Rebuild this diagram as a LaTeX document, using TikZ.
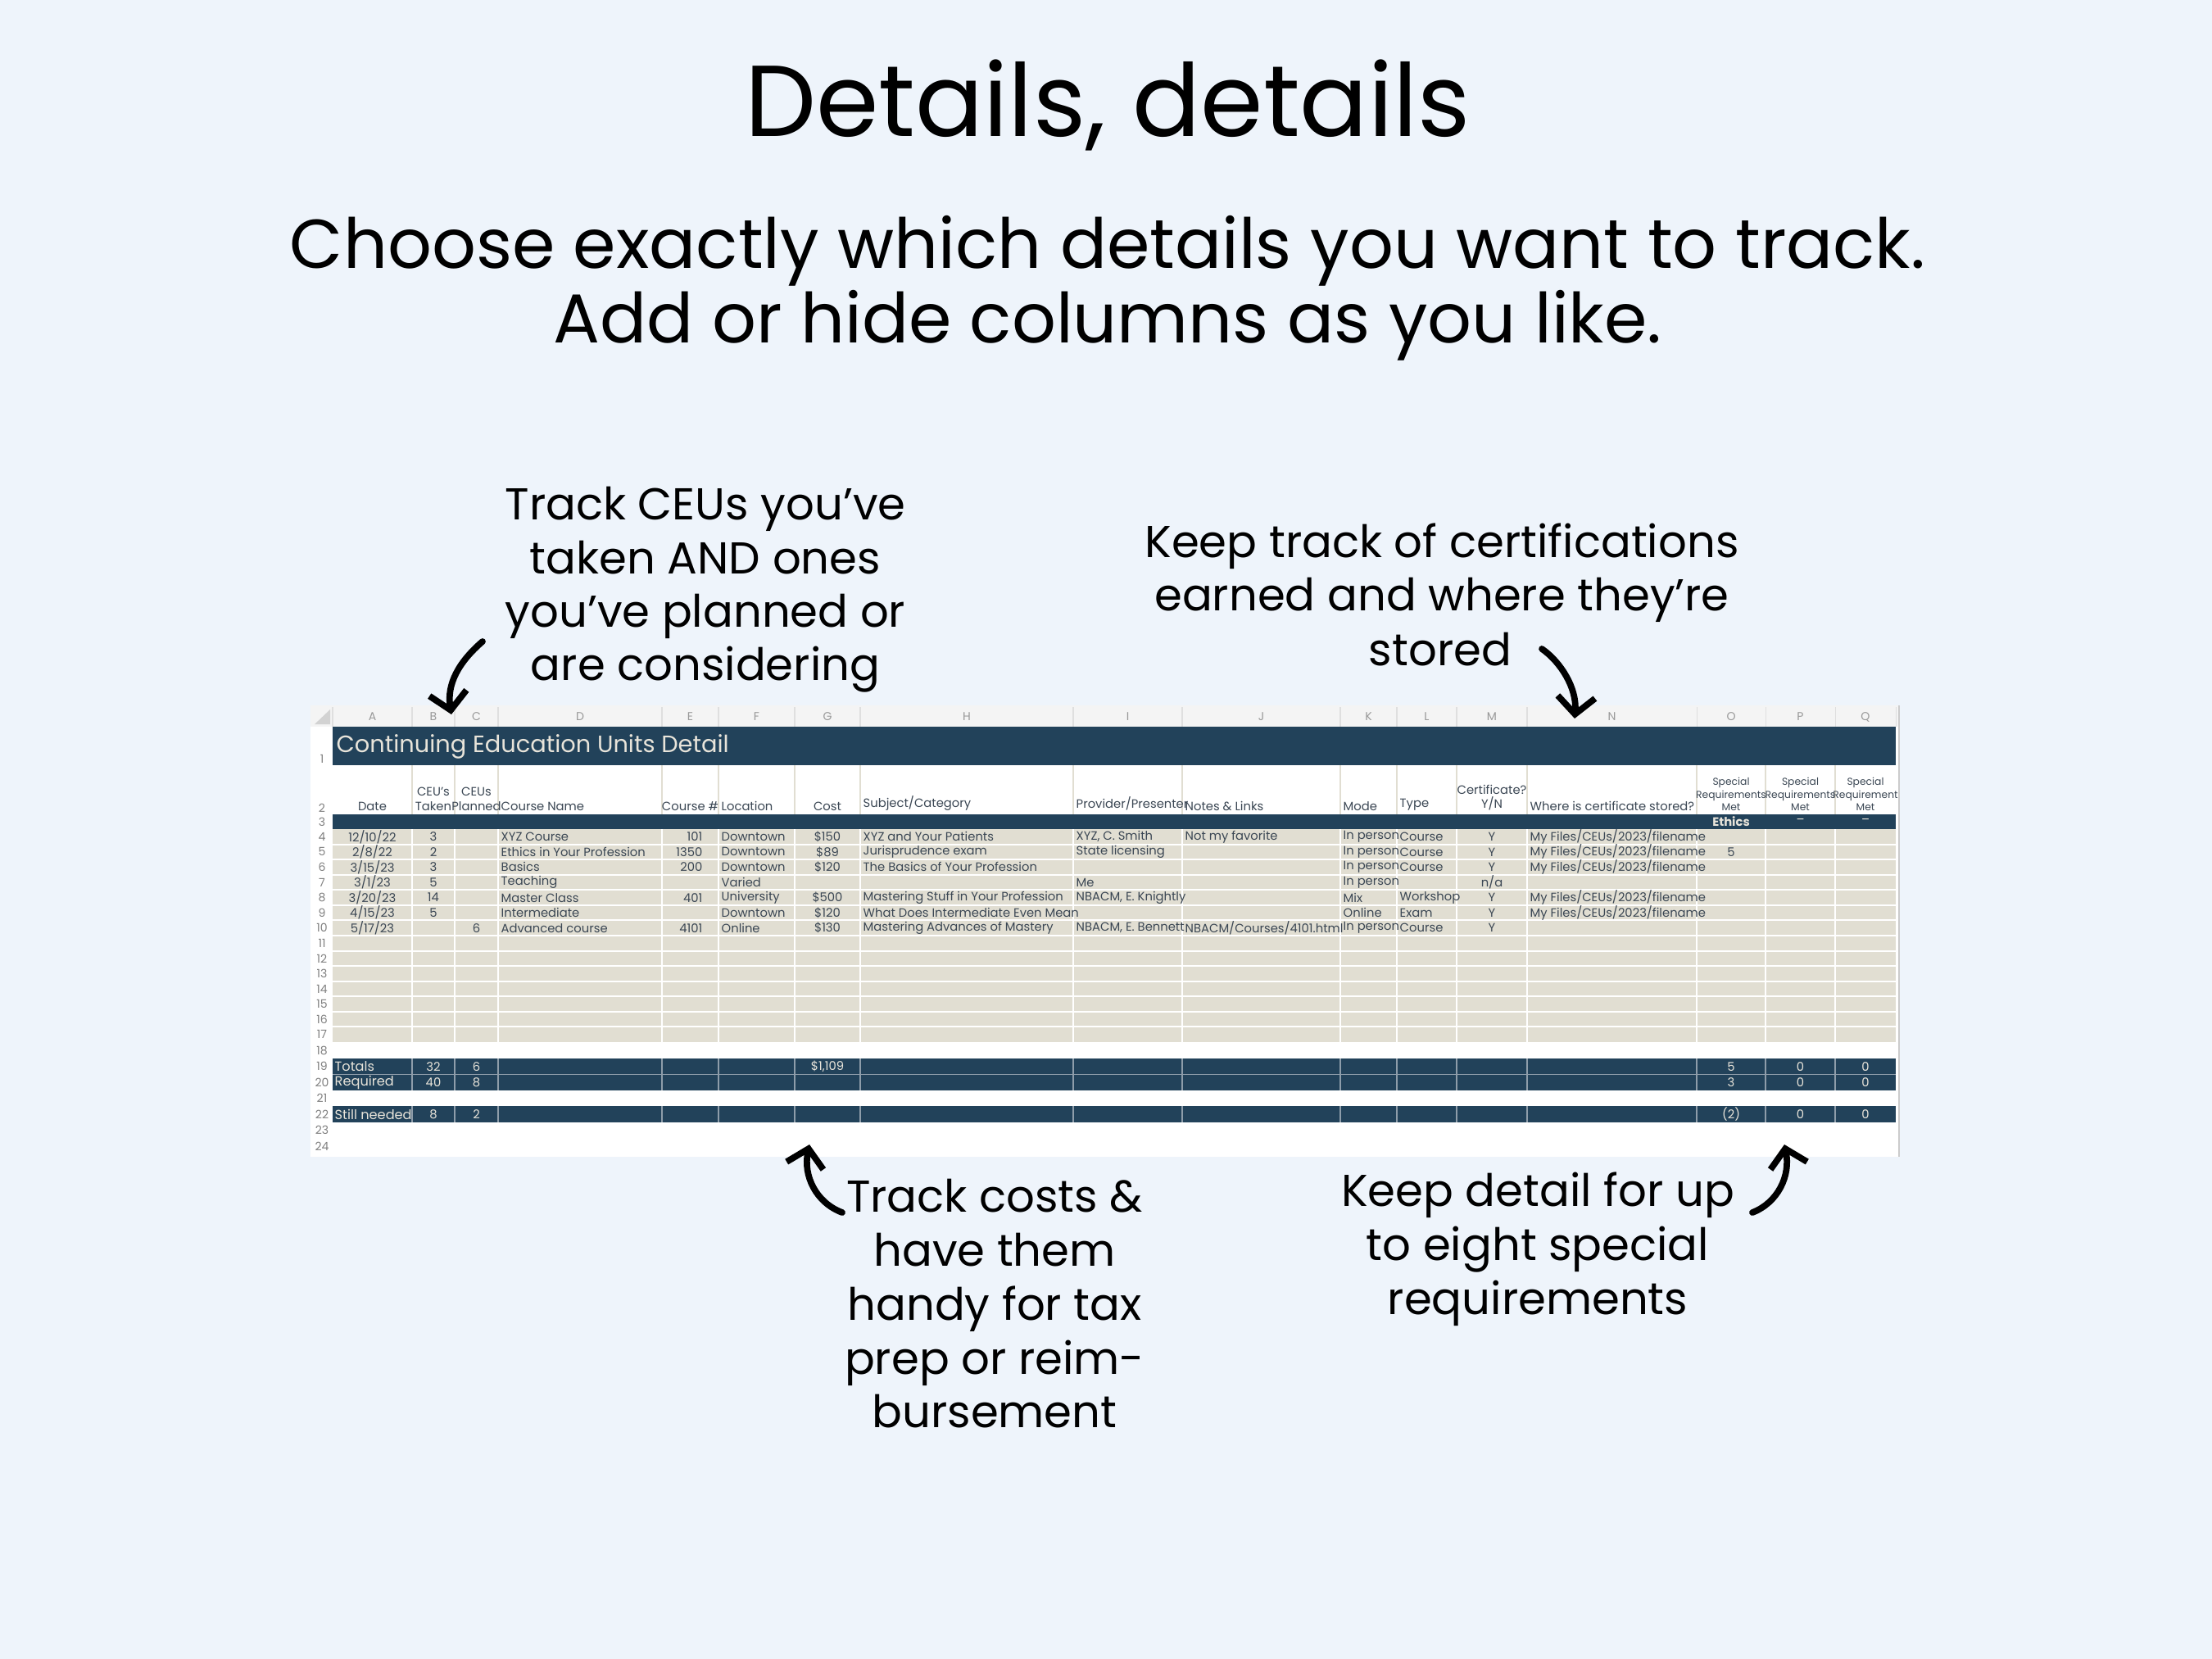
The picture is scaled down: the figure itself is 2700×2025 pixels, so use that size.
\documentclass[tikz,border=0pt]{standalone}
\usepackage{fontspec}
\setmainfont{Poppins}
\usetikzlibrary{arrows.meta}
\definecolor{bg}{HTML}{EEF4FB}
\definecolor{navy}{HTML}{22425A}
\definecolor{beige}{HTML}{E1DED2}
\definecolor{celltxt}{HTML}{3B4754}
\definecolor{hdr}{HTML}{F4F4F4}
\definecolor{navyline}{HTML}{8E9DAA}
\definecolor{light}{HTML}{E8E4DA}
\tikzset{
  big/.style={font=\fontsize{35}{40}\selectfont, anchor=base},
  sub/.style={font=\fontsize{24}{28}\selectfont, anchor=base},
  ann/.style={font=\fontsize{15.5}{18}\selectfont, anchor=base},
  arr/.style={line width=2.2pt, line cap=round, -{Straight Barb[length=6pt,width=13pt,line width=2.2pt]}},
  tx/.style={font=\fontsize{4.2}{5}\selectfont, text=celltxt, inner sep=0pt},
  txl/.style={tx, anchor=west},
  txc/.style={tx, anchor=center},
  txr/.style={tx, anchor=east},
  wt/.style={tx, text=light},
  hd/.style={font=\fontsize{4.2}{5}\selectfont, text=celltxt, inner sep=0pt, align=center, anchor=south},
  hdl/.style={hd, anchor=south west, align=left},
  rn/.style={font=\fontsize{4}{5}\selectfont, text=gray, inner sep=0pt},
}
\begin{document}
\begin{tikzpicture}[x=0.01cm,y=-0.01cm]
\fill[bg] (0,0) rectangle (2700,2025);
\useasboundingbox (0,0) rectangle (2700,2025);

% titles
\node[big] (title) at (1352,167) {Details, details};
\node[sub] (s1) at (1352,328) {Choose exactly which details you want to track.};
\node[sub] (s2) at (1352,419) {Add or hide columns as you like.};

% annotations
\node[ann] (a11) at (861,635) {Track CEUs you’ve};
\node[ann] (a12) at (861,700) {taken AND ones};
\node[ann] (a13) at (861,765) {you’ve planned or};
\node[ann] (a14) at (861,830) {are considering};
\node[ann] (a21) at (1760,680) {Keep track of certifications};
\node[ann] (a22) at (1760,745) {earned and where they’re};
\node[ann] (a23) at (1758,812) {stored};
\node[ann] (a31) at (1214,1479) {Track costs \&};
\node[ann] (a32) at (1214,1545) {have them};
\node[ann] (a33) at (1214,1611) {handy for tax};
\node[ann] (a34) at (1214,1677) {prep or reim-};
\node[ann] (a35) at (1214,1742) {bursement};
\node[ann] (a41) at (1877,1472) {Keep detail for up};
\node[ann] (a42) at (1877,1538) {to eight special};
\node[ann] (a43) at (1877,1604) {requirements};

% ---------- spreadsheet ----------
\fill[white] (379,861) rectangle (2318,1412);
\fill[hdr] (379,861) rectangle (2318,887);
\fill[gray!35] (384,884) -- (403,884) -- (403,866) -- cycle;
% column letters
\foreach \x/\l in {454.5/A,529/B,581.5/C,708/D,842.5/E,923.5/F,1010/G,1180/H,1376.5/I,1539.5/J,1670.5/K,1741.5/L,1821/M,1967.5/N,2113/O,2197.5/P,2277/Q}
  \node[rn, text=gray!80] at (\x,875) {\l};
\foreach \x in {406,503,555,608,808,877,970,1050,1310,1443,1636,1705,1778,1864,2071,2155,2240,2314}
  \draw[gray!25, line width=0.3pt] (\x,863) -- (\x,887);
% row 1
\fill[navy] (406,887) rectangle (2314,934);
\node[wt, anchor=west, font=\fontsize{8.2}{10}\selectfont] at (410,911) {Continuing Education Units Detail};
% row 2 verticals
\foreach \x in {503,555,608,808,877,970,1050,1310,1443,1636,1705,1778,1864,2071,2155,2240}
  \draw[beige, line width=0.5pt] (\x,934) -- (\x,994);
% row 3
\fill[navy] (406,994) rectangle (2314,1012);
% beige body
\fill[beige] (406,1012) rectangle (2314,1272);
\foreach \i in {1,...,13}
  \draw[white, line width=0.6pt] (406,1012+\i*18.57) -- (2314,1012+\i*18.57);
\foreach \x in {503,555,608,808,877,970,1050,1310,1443,1636,1705,1778,1864,2071,2155,2240}
  \draw[white, line width=0.6pt] (\x,1012) -- (\x,1272);
% navy totals
\fill[navy] (406,1292) rectangle (2314,1331);
\fill[navy] (406,1350) rectangle (2314,1370);
\draw[navyline, line width=0.5pt] (406,1311.5) -- (2314,1311.5);
\foreach \x in {503,555,608,808,877,970,1050,1310,1443,1636,1705,1778,1864,2071,2155,2240}{
  \draw[navyline, line width=0.5pt] (\x,1292) -- (\x,1331);
  \draw[navyline, line width=0.5pt] (\x,1350) -- (\x,1370);}
\draw[gray!40, line width=0.5pt] (2318,861) -- (2318,1412);
% row numbers
\node[rn] at (393,926) {1};
\node[rn] at (393,986) {2};
\node[rn] at (393,1003) {3};
\foreach \r in {4,...,17}
  \node[rn] at (393,1021.3+\r*18.57-4*18.57) {\r};
\node[rn] at (393,1282) {18};
\node[rn] at (393,1301.5) {19};
\node[rn] at (393,1321) {20};
\node[rn] at (393,1340.5) {21};
\node[rn] at (393,1360) {22};
\node[rn] at (393,1379.5) {23};
\node[rn] at (393,1399) {24};

% header row 2
\node[hd] at (454.5,990) {Date};
\node[hd] at (529,990) {CEU’s\\Taken};
\node[hd] at (581.5,990) {CEUs\\Planned};
\node[hdl] at (611,990) {Course Name};
\node[hd] at (842.5,990) {Course \#};
\node[hdl] at (880,990) {Location};
\node[hd] at (1010,990) {Cost};
\node[hdl] at (1053,990) {Subject/Category};
\node[hdl] at (1313,990) {Provider/Presenter};
\node[hdl] at (1446,990) {Notes \& Links};
\node[hdl] at (1639,990) {Mode};
\node[hdl] at (1708,990) {Type};
\node[hd] at (1821,990) {Certificate?\\Y/N};
\node[hdl] at (1867,990) {Where is certificate stored?};
\node[hd, font=\fontsize{3.5}{4.3}\selectfont] at (2113,990) {Special\\Requirements\\Met};
\node[hd, font=\fontsize{3.5}{4.3}\selectfont] at (2197.5,990) {Special\\Requirements\\Met};
\node[hd, font=\fontsize{3.5}{4.3}\selectfont] at (2277,990) {Special\\Requirement\\Met};
% row 3
\node[wt, font=\bfseries\fontsize{4.2}{5}\selectfont] at (2113,1003) {Ethics};
\node[wt] at (2197.5,1003) {--};
\node[wt] at (2277,1003) {--};

% data rows
\newcommand\rowA[8]{%
  \node[txc] at (454.5,#1) {#2};
  \node[txc] at (529,#1) {#3};
  \node[txc] at (581.5,#1) {#4};
  \node[txl] at (611,#1) {#5};
  \node[txr] at (858,#1) {#6};
  \node[txl] at (880,#1) {#7};
  \node[txc] at (1010,#1) {#8};}
\newcommand\rowB[9]{%
  \node[txl] at (1053,#1) {#2};
  \node[txl] at (1313,#1) {#3};
  \node[txl] at (1446,#1) {#4};
  \node[txl] at (1639,#1) {#5};
  \node[txl] at (1708,#1) {#6};
  \node[txc] at (1821,#1) {#7};
  \node[txl] at (1867,#1) {#8};
  \node[txc] at (2113,#1) {#9};}
\rowA{1021.3}{12/10/22}{3}{}{XYZ Course}{101}{Downtown}{\$150}
\rowA{1039.9}{2/8/22}{2}{}{Ethics in Your Profession}{1350}{Downtown}{\$89}
\rowA{1058.4}{3/15/23}{3}{}{Basics}{200}{Downtown}{\$120}
\rowA{1077.0}{3/1/23}{5}{}{Teaching}{}{Varied}{}
\rowA{1095.6}{3/20/23}{14}{}{Master Class}{401}{University}{\$500}
\rowA{1114.1}{4/15/23}{5}{}{Intermediate}{}{Downtown}{\$120}
\rowA{1132.7}{5/17/23}{}{6}{Advanced course}{4101}{Online}{\$130}
\rowB{1021.3}{XYZ and Your Patients}{XYZ, C. Smith}{Not my favorite}{In person}{Course}{Y}{My Files/CEUs/2023/filename}{}
\rowB{1039.9}{Jurisprudence exam}{State licensing}{}{In person}{Course}{Y}{My Files/CEUs/2023/filename}{5}
\rowB{1058.4}{The Basics of Your Profession}{}{}{In person}{Course}{Y}{My Files/CEUs/2023/filename}{}
\rowB{1077.0}{}{Me}{}{In person}{}{n/a}{}{}
\rowB{1095.6}{Mastering Stuff in Your Profession}{NBACM, E. Knightly}{}{Mix}{Workshop}{Y}{My Files/CEUs/2023/filename}{}
\rowB{1114.1}{What Does Intermediate Even Mean}{}{}{Online}{Exam}{Y}{My Files/CEUs/2023/filename}{}
\rowB{1132.7}{Mastering Advances of Mastery}{NBACM, E. Bennett}{NBACM/Courses/4101.html}{In person}{Course}{Y}{}{}

% totals
\newcommand\tot[8]{%
  \node[wt, anchor=west, font=\fontsize{4.6}{5}\selectfont] at (408,#1) {#2};
  \node[wt] at (529,#1) {#3};
  \node[wt] at (581.5,#1) {#4};
  \node[wt] at (2113,#1) {#6};
  \node[wt] at (2197.5,#1) {#7};
  \node[wt] at (2277,#1) {#8};
  \node[wt] at (1010,#1) {#5};}
\tot{1302}{Totals}{32}{6}{\$1,109}{5}{0}{0}
\tot{1321.5}{Required}{40}{8}{}{3}{0}{0}
\tot{1360}{Still needed}{8}{2}{}{(2)}{0}{0}

% arrows
\coordinate (t1) at (589,783); \coordinate (h1) at (551,872);
\coordinate (t2) at (1882,792); \coordinate (h2) at (1922,877);
\coordinate (t3) at (1028,1480); \coordinate (h3) at (988,1397);
\coordinate (t4) at (2139,1480); \coordinate (h4) at (2178,1397);
\draw[arr] (t1) .. controls (560,808) and (545,835) .. (h1);
\draw[arr] (t2) .. controls (1905,808) and (1925,840) .. (h2);
\draw[arr] (t3) .. controls (996,1468) and (980,1435) .. (h3);
\draw[arr] (t4) .. controls (2170,1468) and (2186,1435) .. (h4);
\end{tikzpicture}
\end{document}
